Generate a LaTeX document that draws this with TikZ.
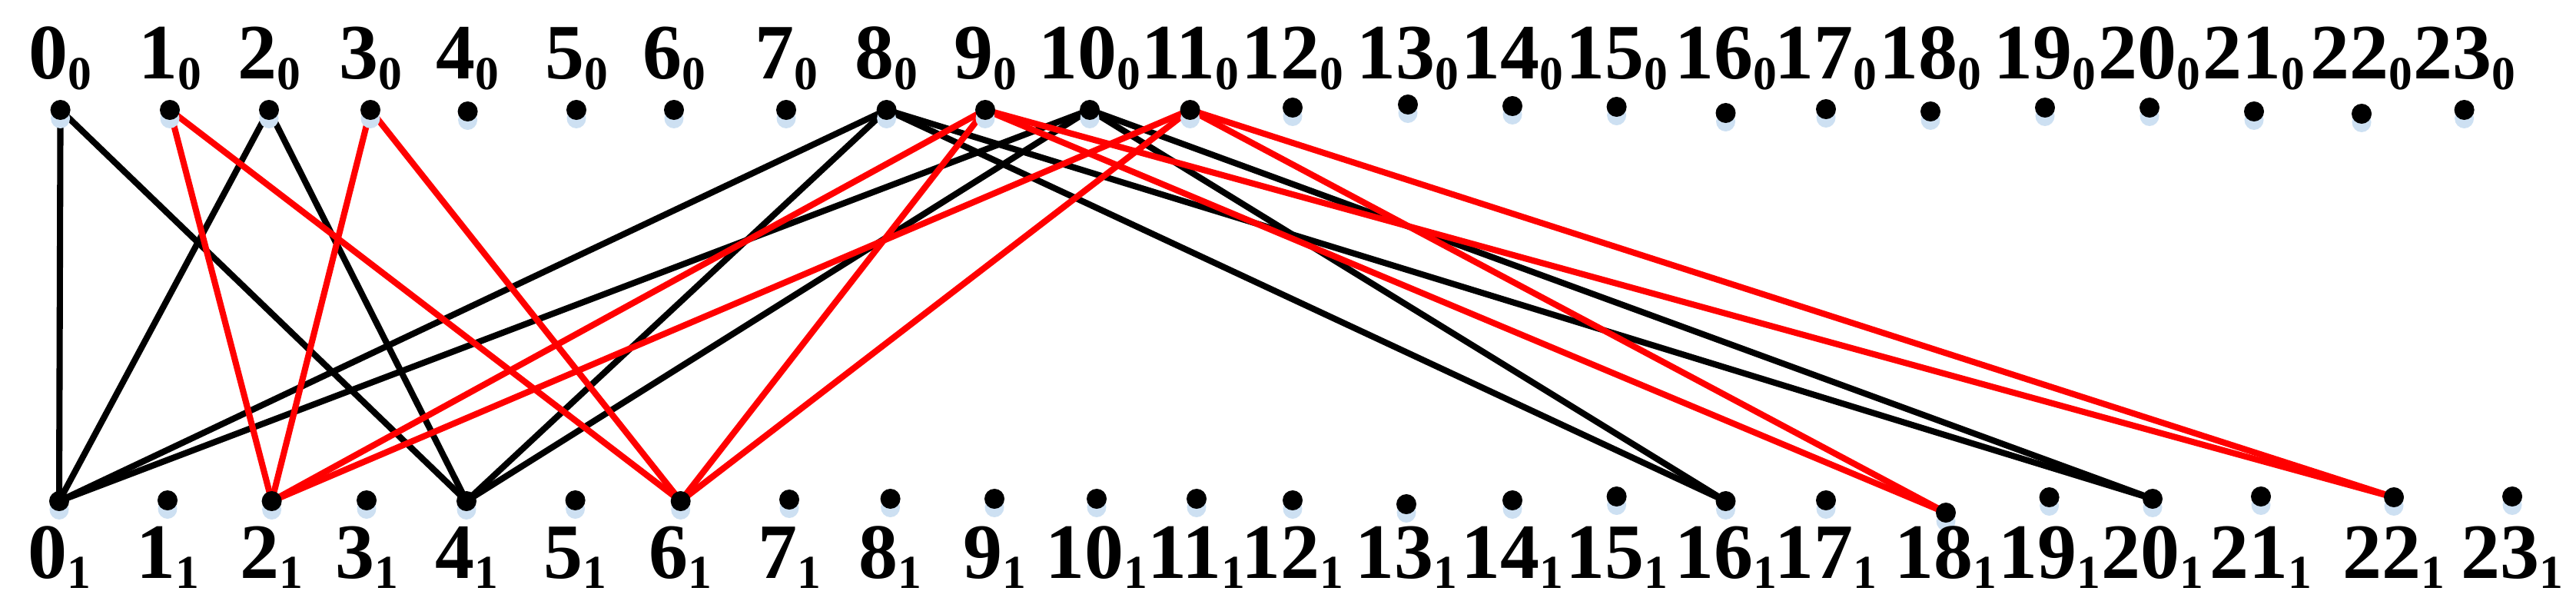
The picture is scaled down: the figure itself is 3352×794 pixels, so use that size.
\documentclass[tikz,border=0pt]{standalone}
\usepackage{fontspec}
\setmainfont{Liberation Serif}
\usetikzlibrary{backgrounds}
\definecolor{shade}{RGB}{205,224,242}
\definecolor{redline}{RGB}{255,0,0}
\newcommand\lbl[2]{{\fontsize{29pt}{29pt}\selectfont\bfseries #1}{\raisebox{-0.13cm}{\fontsize{17.5pt}{17.5pt}\selectfont\bfseries #2}}}
\tikzset{
  vdot/.style={circle, fill=black, inner sep=0pt, minimum size=0.26cm},
  vshadow/.style={fill=shade},
  lab/.style={inner sep=0pt, anchor=base},
  blk/.style={draw=black, line width=2.3pt},
  rd/.style={draw=redline, line width=2.3pt}
}
\begin{document}
\begin{tikzpicture}[x=0.01cm, y=-0.01cm]
\useasboundingbox (0,0) rectangle (3352,794);
% top row
\foreach \i/\x/\y in {0/78.6/143, 1/221/143, 2/350/143, 3/482/143, 4/608.6/145, 5/750/143, 6/877/143, 7/1023/143, 8/1153.6/143, 9/1282/143, 10/1418/143, 11/1548.6/143, 12/1682/140, 13/1832/136, 14/1968/138, 15/2103.6/139, 16/2245.5/147, 17/2376/142, 18/2512/145, 19/2661/140, 20/2797/140, 21/2933/145, 22/3073/148, 23/3206.6/143} {
  \fill[vshadow] (\x,\y+11) ellipse (0.125cm and 0.13cm);
  \node[vdot] (t\i) at (\x,\y) {};
  \node[lab] (lt\i) at (\x,103) {\lbl{\i}{0}};
}
% bottom row
\foreach \i/\x/\y in {0/77/652, 1/218/651, 2/353.6/652, 3/477/651, 4/607/652, 5/748.6/651, 6/885.7/652, 7/1027/650, 8/1158.6/649, 9/1294/649, 10/1427/649, 11/1557/649, 12/1682/651, 13/1830/656, 14/1968/651, 15/2103.6/646, 16/2245.5/652, 17/2376/651, 18/2532/667, 19/2666.6/647, 20/2801/649, 21/2942/646, 22/3115/647, 23/3269/646} {
  \fill[vshadow] (\x,\y+11) ellipse (0.125cm and 0.13cm);
  \node[vdot] (b\i) at (\x,\y) {};
  \node[lab] (lb\i) at (\x,752) {\lbl{\i}{1}};
}
\begin{pgfonlayer}{background}
% black edges
\foreach \s/\t in {0/0, 0/4, 2/0, 2/4, 8/0, 8/4, 8/16, 8/20, 10/0, 10/4, 10/16, 10/20}
  \draw[blk] (t\s.center) -- (b\t.center);
% red edges
\foreach \s/\t in {1/2, 1/6, 3/2, 3/6, 9/2, 9/6, 9/18, 9/22, 11/2, 11/6, 11/18, 11/22}
  \draw[rd] (t\s.center) -- (b\t.center);
\end{pgfonlayer}
\end{tikzpicture}
\end{document}
